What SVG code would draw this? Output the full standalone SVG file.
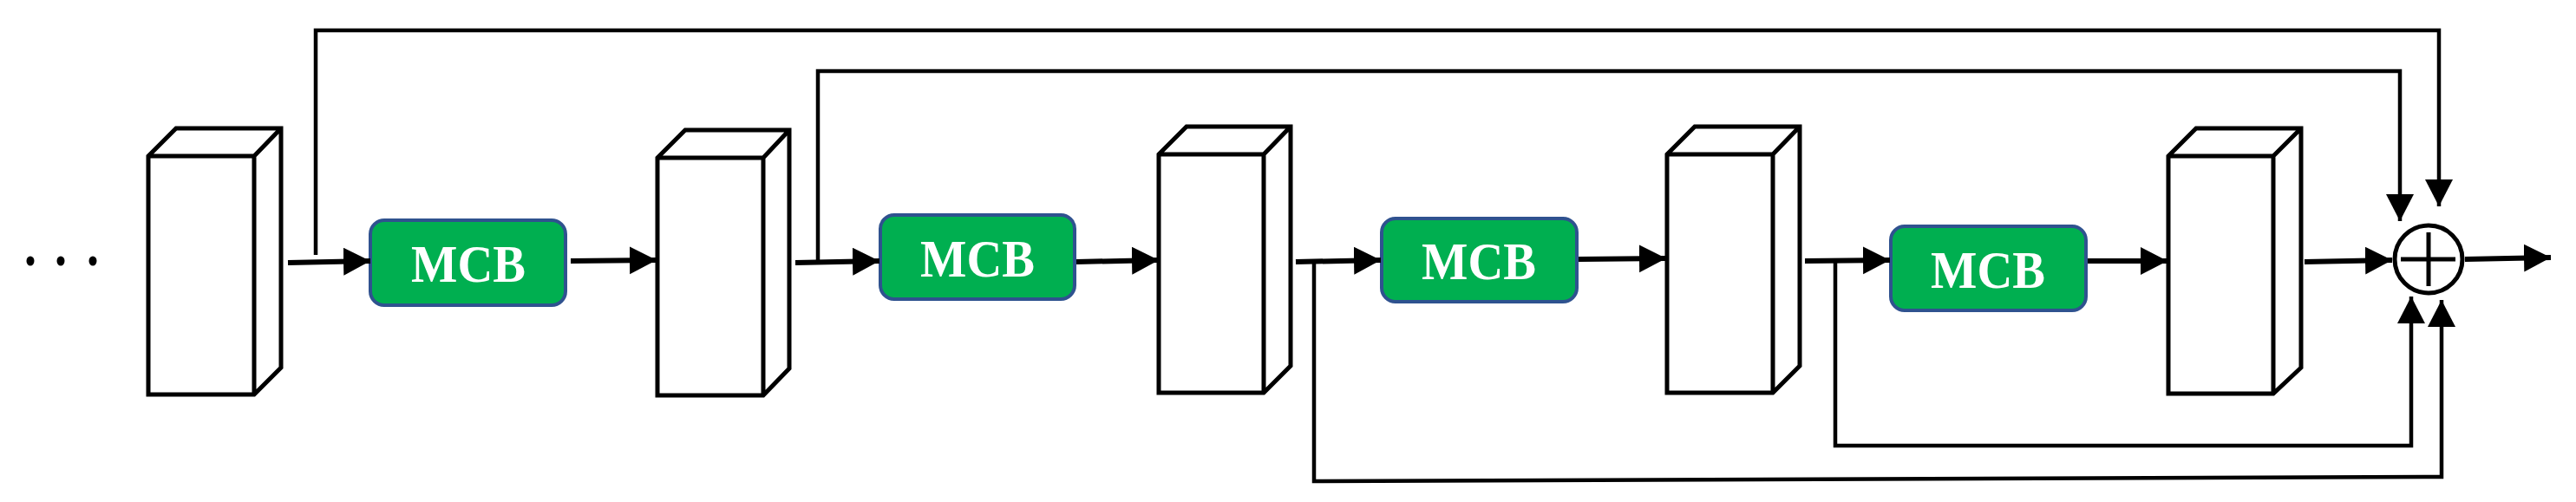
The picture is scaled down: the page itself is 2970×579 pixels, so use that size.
<svg xmlns="http://www.w3.org/2000/svg" width="2970" height="579" viewBox="0 0 2970 579">
<style>
.box{fill:#fff;stroke:#000;stroke-width:5;stroke-linejoin:miter}
.mcb{fill:#00AF50;stroke:#2F528F;stroke-width:4}
.lbl{font-family:"Liberation Serif",serif;font-weight:bold;font-size:62px;fill:#fff;text-anchor:middle}
.ar{fill:none;stroke:#000;stroke-width:6;marker-end:url(#ah)}
.sk{fill:none;stroke:#000;stroke-width:4.5;marker-end:url(#ah)}
</style>
<defs>
<marker id="ah" markerUnits="userSpaceOnUse" markerWidth="36" markerHeight="36" refX="31" refY="16" orient="auto"><path d="M0,0 L31,16 L0,32 Z" fill="#000"/></marker>
</defs>
<g id="dots"><ellipse cx="35" cy="301" rx="4.5" ry="5.5"/><ellipse cx="70" cy="301" rx="4.5" ry="5.5"/><ellipse cx="107" cy="301" rx="4.5" ry="5.5"/></g>
<g id="box1"><path class="box" d="M171,180 L203,148 L324,148 L324,424 L293,455 L171,455 Z M171,180 L293,180 L324,148 M293,180 L293,455"/></g>
<g id="box2"><path class="box" d="M758,182 L790,150 L910,150 L910,425 L880,456 L758,456 Z M758,182 L880,182 L910,150 M880,182 L880,456"/></g>
<g id="box3"><path class="box" d="M1336,178 L1368,146 L1488,146 L1488,422 L1457,453 L1336,453 Z M1336,178 L1457,178 L1488,146 M1457,178 L1457,453"/></g>
<g id="box4"><path class="box" d="M1922,178 L1954,146 L2075,146 L2075,422 L2044,453 L1922,453 Z M1922,178 L2044,178 L2075,146 M2044,178 L2044,453"/></g>
<g id="box5"><path class="box" d="M2500,180 L2532,148 L2653,148 L2653,424 L2621,454 L2500,454 Z M2500,180 L2621,180 L2653,148 M2621,180 L2621,454"/></g>
<g id="mcb1"><rect class="mcb" x="427" y="254" width="225" height="98" rx="16"/><text class="lbl" x="540" y="325" textLength="132" lengthAdjust="spacingAndGlyphs">MCB</text></g>
<g id="mcb2"><rect class="mcb" x="1015" y="248" width="224" height="97" rx="16"/><text class="lbl" x="1127" y="319" textLength="132" lengthAdjust="spacingAndGlyphs">MCB</text></g>
<g id="mcb3"><rect class="mcb" x="1593" y="252" width="225" height="96" rx="16"/><text class="lbl" x="1705" y="322" textLength="132" lengthAdjust="spacingAndGlyphs">MCB</text></g>
<g id="mcb4"><rect class="mcb" x="2180" y="261" width="225" height="97" rx="16"/><text class="lbl" x="2292" y="332" textLength="132" lengthAdjust="spacingAndGlyphs">MCB</text></g>
<g id="sum"><circle cx="2800" cy="299" r="39" fill="#fff" stroke="#000" stroke-width="5"/><path d="M2768,299 H2831 M2800,268 V330" stroke="#000" stroke-width="5"/></g>
<g id="connectors">
<path class="ar" d="M332,303 L427,301"/>
<path class="ar" d="M658,301 L757,300"/>
<path class="ar" d="M917,303 L1014,301"/>
<path class="ar" d="M1241,302 L1336,300"/>
<path class="ar" d="M1494,302 L1592,300"/>
<path class="ar" d="M1820,299 L1921,298"/>
<path class="ar" d="M2081,301 L2179,300"/>
<path class="ar" d="M2407,301 L2499,301"/>
<path class="ar" d="M2657,302 L2758,300"/>
<path class="ar" d="M2842,299 L2941,297"/>
<path class="sk" d="M364,294 V35 H2812 V238"/>
<path class="sk" d="M943,301 V82 H2767 V255"/>
<path class="sk" d="M1515,300 V555 L2815,550 V346"/>
<path class="sk" d="M2116,303 V514 H2780 V342"/>
</g>
</svg>
